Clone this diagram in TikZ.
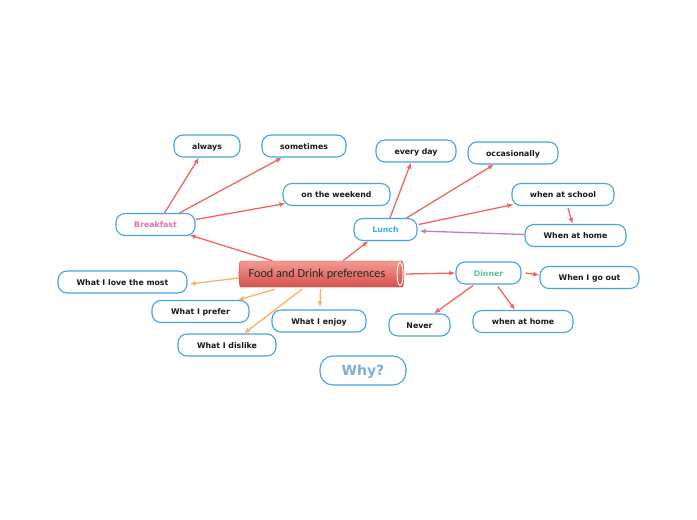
\documentclass[tikz,border=0pt]{standalone}
\usepackage{fontspec}
\setmainfont{DejaVu Sans}
\newfontfamily\rootfont{Carlito}
\usetikzlibrary{shapes.geometric,arrows.meta}
\definecolor{boxblue}{HTML}{45A4E2}
\definecolor{lnred}{HTML}{F0665F}
\definecolor{lnorange}{HTML}{F9B262}
\definecolor{lnpurple}{HTML}{BB7FC6}
\definecolor{bfpink}{HTML}{EA6EA0}
\definecolor{lucyan}{HTML}{3AAEEA}
\definecolor{dngreen}{HTML}{5DC29C}
\definecolor{whyblue}{HTML}{80AED6}
\definecolor{cyltop}{HTML}{F59A93}
\definecolor{cylbot}{HTML}{D4514B}
\tikzset{
  box/.style={draw=boxblue, line width=1.1pt, rounded corners=9pt, fill=white,
    minimum height=22pt, inner sep=0pt, text height=7.4pt, text depth=0.8pt,
    font=\fontsize{7.8}{9}\selectfont\bfseries, text=black!90},
  redln/.style={draw=lnred, line width=1.3pt, -{Latex[length=6pt,width=5pt]}},
  orln/.style={draw=lnorange, line width=1.3pt, -{Latex[length=6pt,width=5pt]}},
  puln/.style={draw=lnpurple, line width=1.3pt, -{Latex[length=6pt,width=5pt]}},
}
\begin{document}
\begin{tikzpicture}[x=1pt,y=-1pt]
\useasboundingbox (0,0) rectangle (697,520);
% central node
\node[cylinder, shape aspect=0.3, minimum width=26pt, minimum height=165pt, inner sep=0pt,
  draw=cylbot!90!black, line width=0.4pt, top color=cyltop, bottom color=cylbot,
  font=\rootfont\fontsize{12.2}{14}\selectfont, text=black!85] (root) at (320.5,274) {\hspace*{-7pt}\raisebox{-1pt}{Food and Drink preferences}};
\draw[white, line width=0.9pt] ([xshift=-4pt]root.east) ellipse (3pt and 11.5pt);
% breakfast
\node[box, minimum width=79pt, text=bfpink] (bf) at (155.5,224.5) {Breakfast};
\node[box, minimum width=66pt] (al) at (207,146) {always};
\node[box, minimum width=84pt] (so) at (304,146) {sometimes};
\node[box, minimum width=107pt] (we) at (336.5,194.5) {on the weekend};
% lunch
\node[box, minimum width=63pt, text=lucyan] (lu) at (385.5,229.5) {Lunch};
\node[box, minimum width=80pt] (ed) at (416,151) {every day};
\node[box, minimum width=90pt] (oc) at (513,153) {occasionally};
\node[box, minimum width=102pt] (ws) at (563,194.5) {when at school};
\node[box, minimum width=101pt] (wh) at (575.5,235.5) {When at home};
% dinner
\node[box, minimum width=65pt, text=dngreen] (dn) at (488.5,273) {Dinner};
\node[box, minimum width=99pt] (go) at (589.5,277.5) {When I go out};
\node[box, minimum width=100pt] (wah) at (523,321.5) {when at home};
\node[box, minimum width=61pt] (nv) at (419.5,325) {Never};
% likes
\node[box, minimum width=129pt] (lo) at (122.5,282) {What I love the most};
\node[box, minimum width=97pt] (pr) at (200.5,311.5) {What I prefer};
\node[box, minimum width=94pt] (ej) at (319,321) {What I enjoy};
\node[box, minimum width=98pt] (di) at (227,345) {What I dislike};
\node[box, minimum width=86pt, minimum height=29pt, rounded corners=13pt, text height=11.2pt, text depth=0.8pt,
  font=\fontsize{14}{16}\selectfont\bfseries, text=whyblue] (why) at (363,370.5) {Why?};
% connectors
\draw[redln] ([xshift=-48pt]root.north) -- ([xshift=34pt,yshift=1pt]bf.south);
\draw[redln] ([xshift=9pt]bf.north) -- ([xshift=-8pt]al.south);
\draw[redln] ([xshift=24pt]bf.north) -- ([xshift=-22pt]so.south);
\draw[redln] ([yshift=5pt]bf.east) -- ([xshift=3pt,yshift=-9pt]we.west);
\draw[redln] ([xshift=22.5pt]root.north) -- ([xshift=-17pt]lu.south);
\draw[redln] ([xshift=4.5pt]lu.north) -- ([xshift=-5pt]ed.south);
\draw[redln] ([xshift=21pt]lu.north) -- ([xshift=-19pt]oc.south);
\draw[redln] ([xshift=1pt,yshift=5pt]lu.east) -- ([xshift=2pt,yshift=-10pt]ws.west);
\draw[redln] ([xshift=5pt,yshift=-2pt]ws.south) -- ([xshift=-3pt]wh.north);
\draw[puln] ([yshift=1pt]wh.west) -- ([xshift=2pt,yshift=-1.5pt]lu.east);
\draw[redln] ([xshift=2pt]root.east) -- (dn.west);
\draw[redln] ([xshift=4pt]dn.east) -- ([yshift=2.5pt]go.west);
\draw[redln] ([xshift=-15.5pt,yshift=-1pt]dn.south) -- ([xshift=14.5pt]nv.north);
\draw[redln] ([xshift=9.5pt,yshift=-2pt]dn.south) -- ([xshift=-8pt]wah.north);
\draw[orln] ([yshift=-4pt]root.west) -- ([xshift=2pt,yshift=-2pt]lo.east);
\draw[orln] ([xshift=-45.5pt,yshift=-2pt]root.south) -- ([xshift=37.5pt]pr.north);
\draw[orln] ([yshift=-2pt]root.south) -- ([xshift=1pt,yshift=2pt]ej.north);
\draw[orln] ([xshift=-18.5pt,yshift=-2pt]root.south) -- ([xshift=17pt]di.north);
\end{tikzpicture}
\end{document}
